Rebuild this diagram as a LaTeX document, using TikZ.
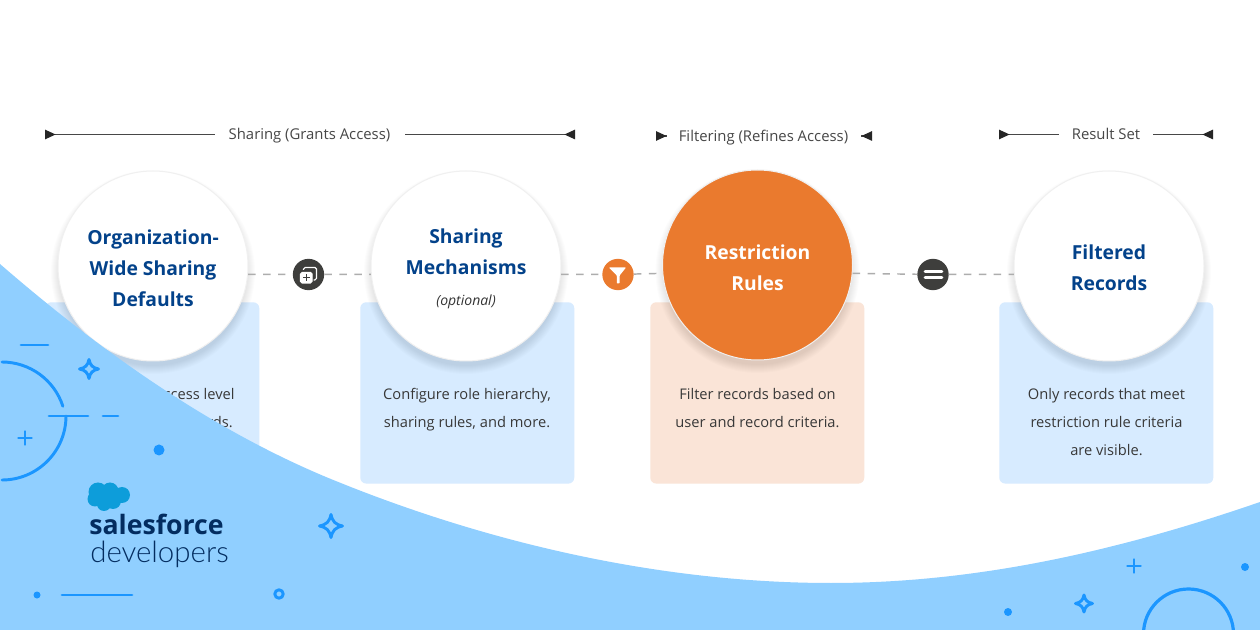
\documentclass[tikz,border=0pt]{standalone}
\usepackage{fontspec}
\setmainfont{Open Sans}
\newfontfamily\logolight{Lato Light}
\usetikzlibrary{arrows.meta}
\definecolor{wave}{HTML}{90CFFF}
\definecolor{accent}{HTML}{1B96FF}
\definecolor{boxblue}{HTML}{D7EBFF}
\definecolor{boxorange}{HTML}{FAE4D7}
\definecolor{orangeC}{HTML}{EA7A2E}
\definecolor{navy}{HTML}{03428A}
\definecolor{darkC}{HTML}{3E3E3C}
\definecolor{logoNavy}{HTML}{032D60}
\definecolor{cloudC}{HTML}{0D9DDA}
\tikzset{
  card/.style={fill=#1,rounded corners=4.5pt,inner sep=0pt,minimum width=160.5pt,minimum height=136pt,anchor=north west},
  disc/.style={circle,draw=#1,line width=0.75pt,inner sep=0pt,minimum size=142.5pt},
  title/.style={align=center,inner sep=0pt,font=\fontsize{14.5}{23.25}\selectfont\bfseries},
  body/.style={align=center,text=black!78,font=\fontsize{11}{21}\selectfont},
  head/.style={text=black!72,font=\fontsize{11.15}{13}\selectfont},
  iconC/.style={circle,fill=#1,inner sep=0pt,minimum size=23.5pt},
  dashline/.style={draw=black!32,line width=1.1pt,dash pattern=on 5.6pt off 5.6pt},
  bracketL/.style={draw=black!72,line width=1.1pt,{Triangle[reversed,length=8pt,width=7pt,black!85]}-},
  bracketR/.style={draw=black!72,line width=1.1pt,-{Triangle[reversed,length=8pt,width=7pt,black!85]}},
  deco/.style={draw=accent,line width=2.2pt,line cap=round,line join=round},
  decofill/.style={fill=accent}
}
\newcommand{\softshadow}[2]{%
  \foreach \k in {1,...,9}{\fill[black,opacity=0.012] (#1,#2+6) circle[radius=93+\k];}%
}
\newcommand{\sparkle}[3]{%
  \draw[deco] (#1,#2-#3) .. controls (#1+0.13*#3,#2-0.38*#3) and (#1+0.38*#3,#2-0.13*#3) .. (#1+#3,#2)
   .. controls (#1+0.38*#3,#2+0.13*#3) and (#1+0.13*#3,#2+0.38*#3) .. (#1,#2+#3)
   .. controls (#1-0.13*#3,#2+0.38*#3) and (#1-0.38*#3,#2+0.13*#3) .. (#1-#3,#2)
   .. controls (#1-0.38*#3,#2-0.13*#3) and (#1-0.13*#3,#2-0.38*#3) .. cycle;%
}
\newcommand{\plusmark}[3]{\draw[deco] (#1-#3,#2)--(#1+#3,#2) (#1,#2-#3)--(#1,#2+#3);}
\begin{document}
\begin{tikzpicture}[x=0.75pt,y=-0.75pt]
\useasboundingbox (0,0) rectangle (1260,630);
\fill[white] (0,0) rectangle (1260,630);
% header brackets
\node[head] (h1) at (309.5,136) {Sharing (Grants Access)};
\node[head] (h2) at (763.5,138) {Filtering (Refines Access)};
\node[head] (h3) at (1106,134) {Result Set};
\coordinate (h1a) at (45,134.5);\coordinate (h1b) at (215,134.5);
\coordinate (h1c) at (405,134.5);\coordinate (h1d) at (575,134.5);
\coordinate (h2a) at (656,136);\coordinate (h2b) at (667,136);
\coordinate (h2c) at (861,136);\coordinate (h2d) at (872,136);
\coordinate (h3a) at (999,134.5);\coordinate (h3b) at (1059,134.5);
\coordinate (h3c) at (1153,134.5);\coordinate (h3d) at (1213,134.5);
\draw[bracketL] (h1a)--(h1b);
\draw[bracketR] (h1c)--(h1d);
\draw[bracketL] (h2a)--(h2b);
\draw[bracketR] (h2c)--(h2d);
\draw[bracketL] (h3a)--(h3b);
\draw[bracketR] (h3c)--(h3d);
% cards
\node[card=boxblue] (b1) at (45,302) {};
\node[card=boxblue] (b2) at (360,302) {};
\node[card=boxorange] (b3) at (650,302) {};
\node[card=boxblue] (b4) at (999,302) {};
\node[body] (t1) at (152,410) {Set baseline access level\\for objects and records.};
\node[body] (t2) at (467,410) {Configure role hierarchy,\\sharing rules, and more.};
\node[body] (t3) at (757.5,408) {Filter records based on\\user and record criteria.};
\node[body] (t4) at (1106.5,422) {Only records that meet\\restriction rule criteria\\are visible.};
% circles
\softshadow{153}{266}
\softshadow{466}{266}
\softshadow{757.5}{265}
\softshadow{1109}{266}
\node[disc=black!6,fill=white] (c1) at (153,266) {};
\node[disc=black!6,fill=white] (c2) at (466,266) {};
\node[disc=black!6,fill=orangeC] (c3) at (757.5,265) {};
\node[disc=black!6,fill=white] (c4) at (1109,266) {};
\node[title,text=navy] (ct1) at (153,268) {Organization-\\Wide Sharing\\Defaults};
\node[title,text=navy] (ct2) at (466,268.7) {Sharing\\Mechanisms\\{\fontsize{10.5}{23.25}\selectfont\mdseries\itshape\color{black!80}(optional)}};
\node[title,text=white] (ct3) at (757.5,268) {Restriction\\Rules};
\node[title,text=navy] (ct4) at (1109,268) {Filtered\\Records};
% operator icons
\node[iconC=darkC] (i1) at (308.5,274.5) {};
\node[iconC=orangeC] (i2) at (618,274.5) {};
\node[iconC=darkC] (i3) at (933,274.5) {};
% connectors
\draw[dashline] (c1.-5.1)--(i1);
\draw[dashline] (i1)--(c2.{180+5.1});
\draw[dashline] (c2.-5.1)--(i2);
\draw[dashline] (i2)--(c3.{180+5.7});
\draw[dashline] (c3.-5.7)--(i3);
\draw[dashline] (i3)--(c4.{180+5.1});
% icon glyphs
\draw[white,line width=0.9pt,rounded corners=1.2pt] (303.5,270) -- (303.5,267.5) -- (316.5,267.5) -- (316.5,280) -- (313.5,280);
\draw[white,line width=0.9pt,rounded corners=1.2pt,fill=white] (300.5,272.5) rectangle (312,283);
\draw[darkC,line width=0.9pt] (303,277.8)--(309.5,277.8) (306.25,274.5)--(306.25,281);
\fill[white,rounded corners=0.5pt] (609,267.5) -- (626,267.5) -- (619.6,275.5) -- (619.6,283.5) -- (616.8,283.5) -- (616.8,275.5) -- cycle;
\draw[white,line width=2pt,line cap=round] (925,271.5)--(942,271.5) (925,277.5)--(942,277.5);
% wave
\fill[wave] (0,264) .. controls (113,362) and (225,437) .. (340,482.7)
  .. controls (500,547) and (670,583) .. (831,583)
  .. controls (975,583) and (1115,552) .. (1260,502)
  -- (1260,630) -- (0,630) -- cycle;
% left decoration
\begin{scope}
\clip (0,0) rectangle (1260,630);
\draw[deco] (21,345)--(48,345);
\draw[deco] (2,362) arc[start angle=-90,end angle=-18,radius=64];
\draw[deco] (49,416)--(88,416) (103,416)--(118,416);
\draw[deco] (66,416) arc[start angle=0,end angle=90,radius=64];
\plusmark{25}{438}{6.5}
\sparkle{89}{369}{9.5}
\sparkle{331}{526}{11.5}
\fill[decofill] (159,450) circle[radius=5.5];
\fill[decofill] (37,595) circle[radius=3.5];
\draw[deco] (62,595)--(132,595);
\draw[deco] (279,594) circle[radius=4.2];
% right decoration
\plusmark{1134}{566}{6.5}
\fill[decofill] (1245,567) circle[radius=4];
\fill[decofill] (1008,612) circle[radius=4];
\sparkle{1084}{603.5}{8.5}
\draw[deco,line width=2.4pt] (1143.5,634) arc[start angle=180,end angle=360,radius=45];
\end{scope}
% logo
\fill[cloudC] (98,492) circle[radius=9.5] (110,491) circle[radius=8.5] (122,495) circle[radius=8] (95,499) circle[radius=7.5] (104,504) circle[radius=7] (113,501) circle[radius=8];
\node[anchor=base west,inner sep=0pt,text=logoNavy,font=\fontsize{20}{22}\selectfont\bfseries] (l1) at (89,535) {salesforce};
\node[anchor=base west,inner sep=0pt,text=logoNavy,font=\fontsize{22.1}{24}\logolight] (l2) at (90,562) {developers};
\end{tikzpicture}
\end{document}
